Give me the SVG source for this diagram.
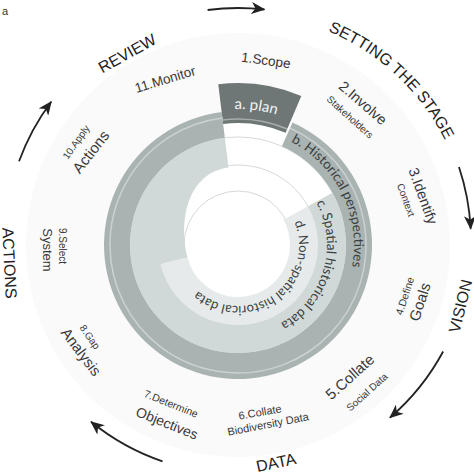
<svg xmlns="http://www.w3.org/2000/svg" width="474" height="474" viewBox="0 0 474 474">
<style>
.stage{font-family:"Liberation Sans",Arial,sans-serif;font-size:16px;fill:#222;text-anchor:middle}
.step{font-family:"Liberation Sans",Arial,sans-serif;fill:#383838;text-anchor:middle}
.ring{font-family:Lato,"Liberation Sans",sans-serif;font-size:13.5px;fill:#3a3f3f}
.thin{fill:none;stroke:#d6d9d9;stroke-width:1}
.arrow{fill:none;stroke:#222;stroke-width:1.8;marker-end:url(#head)}
.stripe{fill:none;stroke:#fff;stroke-opacity:0.4;stroke-width:1.5}
</style>
<defs>
<marker id="head" viewBox="0 0 14 12" markerWidth="14" markerHeight="12" refX="13" refY="6" orient="auto" markerUnits="userSpaceOnUse">
<path d="M0,0 L14,6 L0,12 L4,6 Z" fill="#222"/>
</marker>
<path id="pSet" d="M290.19,18.95 A232,232 0 0 1 459.86,177.17"/>
<path id="pPlan" d="M208.56,112.22 A136,136 0 0 1 300.80,124.37"/>
<path id="pB" d="M266.06,132.45 A116,116 0 0 1 343.97,292.18"/>
<path id="pC" d="M312.22,195.88 A89,89 0 0 1 273.49,326.62"/>
<path id="pD" d="M293.06,218.74 A61,61 0 0 1 195.24,288.51"/>
</defs>
<rect width="474" height="474" fill="#fff"/>
<circle cx="238" cy="245" r="212" fill="#fafafa"/>
<text x="2" y="15" font-family="Liberation Sans,Arial,sans-serif" font-size="11" fill="#333">a</text>

<g id="rings">
<circle cx="238" cy="245" r="134" fill="#fff"/>
<circle class="thin" cx="238" cy="245" r="108"/>
<circle class="thin" cx="238" cy="245" r="80"/>
<circle class="thin" cx="238" cy="245" r="54"/>
</g>

<g id="node-a">
<path d="M218.26,84.21 A162,162 0 0 1 301.30,95.88 L285.67,132.70 A122,122 0 0 0 223.13,123.91 Z" fill="#6e7676"/>
<path class="stripe" d="M222.64,119.94 A126,126 0 0 1 287.23,129.02"/>
<text class="ring" style="font-size:15px;fill:#f2f4f4"><textPath href="#pPlan" startOffset="50%" text-anchor="middle">a. plan</textPath></text>
</g>
<g id="node-b">
<path d="M292.50,122.58 A134,134 0 1 1 221.67,112.00 L224.84,137.80 A108,108 0 1 0 281.93,146.34 Z" fill="#a9b3b2"/>
<path class="stripe" d="M290.06,128.07 A128,128 0 1 1 222.40,117.95"/>
<text class="ring"><textPath href="#pB" startOffset="50%" text-anchor="middle">b. Historical perspectives</textPath></text>
</g>
<g id="node-c">
<path d="M332.46,192.64 A108,108 0 1 1 224.84,137.80 L228.49,167.58 C188.8,172.5 177.9,218.8 187.54,257.58 L160.38,264.35 A80,80 0 0 0 307.97,206.22 Z" fill="#d1d9d8"/>
<text class="ring"><textPath href="#pC" startOffset="50%" text-anchor="middle">c. Spatial historical data</textPath></text>
</g>
<g id="node-d">
<path d="M307.97,206.22 A80,80 0 1 1 160.38,264.35 L187.54,257.58 A52,52 0 1 0 283.48,219.79 Z" fill="#e6eaea"/>
<text class="ring" style="font-size:13px"><textPath href="#pD" startOffset="50%" text-anchor="middle">d. Non-spatial historical data</textPath></text>
</g>

<g id="stages">
<text class="stage" transform="translate(127,53) rotate(-29)" y="6">REVIEW</text>
<text class="stage"><textPath href="#pSet" startOffset="50%" text-anchor="middle">SETTING THE STAGE</textPath></text>
<text class="stage" transform="translate(460,306) rotate(-76)" y="6">VISION</text>
<text class="stage" transform="translate(276,462) rotate(-12)" y="6">DATA</text>
<text class="stage" transform="translate(10,263) rotate(87)" y="6">ACTIONS</text>
</g>

<g id="steps">
<g id="step1"><text class="step" font-size="13.5" transform="translate(266,60) rotate(8)" y="5">1.Scope</text></g>
<g id="step2"><text class="step" font-size="14.5" transform="translate(363,103) rotate(41)" y="5">2.Involve</text>
<text class="step" font-size="10" transform="translate(350,117) rotate(42)" y="3.5">Stakeholders</text></g>
<g id="step3"><text class="step" font-size="14.5" transform="translate(423,196) rotate(70)" y="5">3.Identify</text>
<text class="step" font-size="10" transform="translate(406,200) rotate(70)" y="3.5">Context</text></g>
<g id="step4"><text class="step" font-size="10.5" transform="translate(405,296) rotate(-72)" y="3.5">4.Define</text>
<text class="step" font-size="15" transform="translate(420,302) rotate(-72)" y="5">Goals</text></g>
<g id="step5"><text class="step" font-size="15" transform="translate(350,377) rotate(-42)" y="5">5.Collate</text>
<text class="step" font-size="10" transform="translate(367,392) rotate(-42)" y="3.5">Social Data</text></g>
<g id="step6"><text class="step" font-size="11" transform="translate(260,412) rotate(-10)" y="4">6.Collate</text>
<text class="step" font-size="11" transform="translate(268,424) rotate(-11)" y="4">Biodiversity Data</text></g>
<g id="step7"><text class="step" font-size="10.5" transform="translate(171,404) rotate(22)" y="3.5">7.Determine</text>
<text class="step" font-size="14" transform="translate(167,423) rotate(22)" y="5">Objectives</text></g>
<g id="step8"><text class="step" font-size="10" transform="translate(90,337) rotate(55)" y="3.5">8.Gap</text>
<text class="step" font-size="15" transform="translate(81,352) rotate(53)" y="5">Analysis</text></g>
<g id="step9"><text class="step" font-size="10" transform="translate(62,246) rotate(90)" y="3.5">9.Select</text>
<text class="step" font-size="13" transform="translate(47,250) rotate(90)" y="4.5">System</text></g>
<g id="step10"><text class="step" font-size="10" transform="translate(76,142) rotate(-55)" y="3.5">10.Apply</text>
<text class="step" font-size="15" transform="translate(91,152) rotate(-52)" y="5">Actions</text></g>
<g id="step11"><text class="step" font-size="13.5" transform="translate(165,79) rotate(-17)" y="5">11.Monitor</text></g>
</g>

<g id="connectors">
<path class="arrow" d="M207.6,10.0 A233,233 0 0 1 264.4,9.5"/>
<path class="arrow" d="M458.96,167.07 A233,233 0 0 1 470.68,228.80"/>
<path class="arrow" d="M443.15,351.46 A233,233 0 0 1 389.94,417.64"/>
<path class="arrow" d="M162.53,461.44 A233,233 0 0 1 91.05,421.82"/>
<path class="arrow" d="M19.05,161.31 A233,233 0 0 1 51.19,101.75"/>
</g>
</svg>
